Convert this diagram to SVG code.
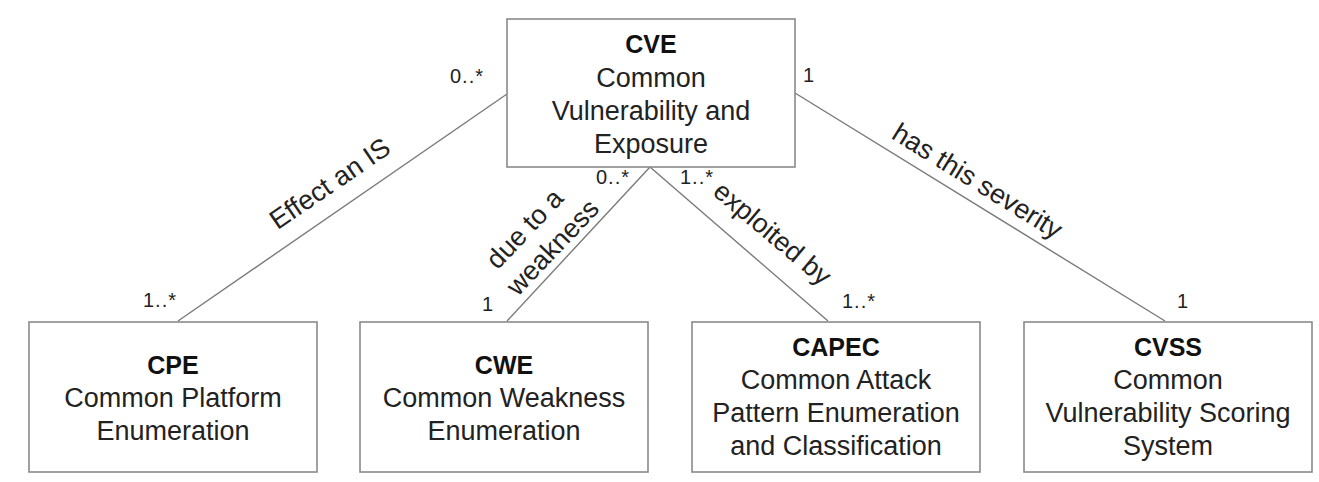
<svg xmlns="http://www.w3.org/2000/svg" width="1319" height="482" viewBox="0 0 1319 482">
<style>
  .box { fill: #ffffff; stroke: #8a8a8a; stroke-width: 1.6; }
  .edge { stroke: #7a7a7a; stroke-width: 1.4; fill: none; }
  text { font-family: "Liberation Sans", Arial, sans-serif; fill: #222222; }
  .title { font-size: 25px; font-weight: bold; text-anchor: middle; fill: #111111; }
  .body { font-size: 27px; text-anchor: middle; }
  .lbl { font-size: 27px; text-anchor: middle; }
  .mult { font-size: 20px; letter-spacing: 1px; }
</style>
<rect width="1319" height="482" fill="#ffffff"/>
<g id="connectors">
  <line class="edge" x1="507" y1="94" x2="178" y2="321"/>
  <line class="edge" x1="650" y1="167" x2="507" y2="321"/>
  <line class="edge" x1="650" y1="167" x2="828" y2="321"/>
  <line class="edge" x1="795" y1="93" x2="1165" y2="321"/>
  <text class="lbl" transform="translate(345,206) rotate(-34.25)" x="0" y="-18">Effect an IS</text>
  <g transform="translate(565,259) rotate(-46.4)">
    <text class="lbl" x="-6" y="-41">due to a</text>
    <text class="lbl" x="0" y="-8">weakness</text>
  </g>
  <text class="lbl" transform="translate(754.4,254.9) rotate(40.1)" x="0" y="-19">exploited by</text>
  <text class="lbl" transform="translate(966.3,199) rotate(31.75)" x="0" y="-12">has this severity</text>
  <text class="mult" x="450" y="83">0..*</text>
  <text class="mult" x="803" y="82">1</text>
  <text class="mult" x="596" y="184">0..*</text>
  <text class="mult" x="680" y="184">1..*</text>
  <text class="mult" x="143" y="307">1..*</text>
  <text class="mult" x="482" y="311">1</text>
  <text class="mult" x="842" y="308">1..*</text>
  <text class="mult" x="1177" y="308">1</text>
</g>
<g id="cve">
  <rect class="box" x="507" y="19" width="288" height="148"/>
  <text class="title" x="651" y="53">CVE</text>
  <text class="body" x="651" y="87">Common</text>
  <text class="body" x="651" y="120">Vulnerability and</text>
  <text class="body" x="651" y="153">Exposure</text>
</g>
<g id="cpe">
  <rect class="box" x="29" y="322" width="288" height="150"/>
  <text class="title" x="173" y="374">CPE</text>
  <text class="body" x="173" y="407">Common Platform</text>
  <text class="body" x="173" y="440">Enumeration</text>
</g>
<g id="cwe">
  <rect class="box" x="360" y="322" width="288" height="150"/>
  <text class="title" x="504" y="374">CWE</text>
  <text class="body" x="504" y="407">Common Weakness</text>
  <text class="body" x="504" y="440">Enumeration</text>
</g>
<g id="capec">
  <rect class="box" x="692" y="322" width="288" height="150"/>
  <text class="title" x="836" y="356">CAPEC</text>
  <text class="body" x="836" y="389">Common Attack</text>
  <text class="body" x="836" y="422">Pattern Enumeration</text>
  <text class="body" x="836" y="455">and Classification</text>
</g>
<g id="cvss">
  <rect class="box" x="1024" y="322" width="288" height="150"/>
  <text class="title" x="1168" y="356">CVSS</text>
  <text class="body" x="1168" y="389">Common</text>
  <text class="body" x="1168" y="422">Vulnerability Scoring</text>
  <text class="body" x="1168" y="455">System</text>
</g>
</svg>
